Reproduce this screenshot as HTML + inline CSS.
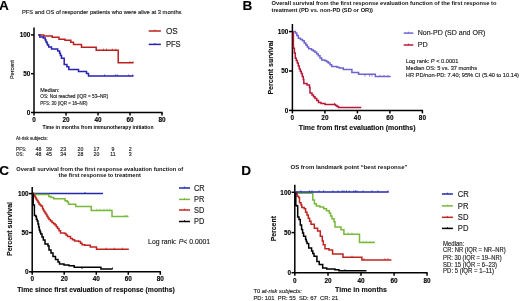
<!DOCTYPE html>
<html><head><meta charset="utf-8"><style>
html,body{margin:0;padding:0;background:#fff;}
body{width:520px;height:301px;overflow:hidden;}
svg{display:block;font-family:"Liberation Sans",Arial,sans-serif;}
text[font-weight="normal"]{stroke:#222;stroke-width:0.15px;}
text[font-weight="bold"]{stroke:#000;stroke-width:0.12px;}
</style></head><body>
<svg width="520" height="301" viewBox="0 0 520 301">
<rect width="520" height="301" fill="#fff"/>
<text x="-0.90" y="9.60" font-size="13.60" font-weight="bold" text-anchor="start" fill="#000">A</text>
<text x="22.00" y="14.20" font-size="5.40" font-weight="normal" text-anchor="start" fill="#222" textLength="159.50" lengthAdjust="spacingAndGlyphs">PFS and OS of responder patients who were alive at 3 months</text>
<line x1="34.00" y1="27.50" x2="34.00" y2="113.10" stroke="#000" stroke-width="1.50"/>
<line x1="31.00" y1="34.90" x2="34.00" y2="34.90" stroke="#000" stroke-width="1.50"/>
<line x1="31.00" y1="73.70" x2="34.00" y2="73.70" stroke="#000" stroke-width="1.50"/>
<line x1="31.00" y1="112.50" x2="34.00" y2="112.50" stroke="#000" stroke-width="1.50"/>
<text x="30.30" y="37.20" font-size="6.40" font-weight="bold" text-anchor="end" fill="#000">100</text>
<text x="30.30" y="76.00" font-size="6.40" font-weight="bold" text-anchor="end" fill="#000">50</text>
<text x="30.30" y="114.80" font-size="6.40" font-weight="bold" text-anchor="end" fill="#000">0</text>
<text x="0.00" y="0.00" font-size="5.50" font-weight="normal" text-anchor="middle" fill="#222" transform="translate(13.8 69.6) rotate(-90)">Percent</text>
<line x1="33.40" y1="112.50" x2="162.60" y2="112.50" stroke="#000" stroke-width="1.50"/>
<line x1="34.00" y1="112.50" x2="34.00" y2="115.60" stroke="#000" stroke-width="1.50"/>
<text x="34.00" y="121.80" font-size="6.40" font-weight="bold" text-anchor="middle" fill="#000">0</text>
<line x1="66.00" y1="112.50" x2="66.00" y2="115.60" stroke="#000" stroke-width="1.50"/>
<text x="66.00" y="121.80" font-size="6.40" font-weight="bold" text-anchor="middle" fill="#000">20</text>
<line x1="98.00" y1="112.50" x2="98.00" y2="115.60" stroke="#000" stroke-width="1.50"/>
<text x="98.00" y="121.80" font-size="6.40" font-weight="bold" text-anchor="middle" fill="#000">40</text>
<line x1="130.00" y1="112.50" x2="130.00" y2="115.60" stroke="#000" stroke-width="1.50"/>
<text x="130.00" y="121.80" font-size="6.40" font-weight="bold" text-anchor="middle" fill="#000">60</text>
<line x1="162.00" y1="112.50" x2="162.00" y2="115.60" stroke="#000" stroke-width="1.50"/>
<text x="162.00" y="121.80" font-size="6.40" font-weight="bold" text-anchor="middle" fill="#000">80</text>
<text x="42.50" y="129.00" font-size="5.50" font-weight="bold" text-anchor="start" fill="#000" textLength="111.00" lengthAdjust="spacingAndGlyphs" style="stroke:none">Time in months from immunotherapy initiation</text>
<path d="M38.30 35.00 H43.70 V36.00 H52.20 V37.30 H59.00 V39.20 H65.00 V40.20 H70.80 V42.20 H73.50 V44.50 H81.50 V47.20 H96.20 V50.30 H118.20 V62.80 H133.50" fill="none" stroke="#bb2020" stroke-width="1.50" stroke-linejoin="miter" stroke-linecap="butt"/>
<path d="M38.30 35.00 H39.80 V36.90 H43.30 V38.10 H45.20 V40.00 H46.00 V41.90 H47.00 V43.50 H47.50 V45.00 H48.70 V47.10 H51.50 V49.00 H57.70 V50.90 H59.60 V53.20 H60.40 V55.50 H61.50 V58.30 H64.20 V64.50 H66.90 V66.80 H68.80 V69.40 H78.50 V71.50 H86.50 V73.40 H88.50 V76.00 H133.50" fill="none" stroke="#2a22b0" stroke-width="1.50" stroke-linejoin="miter" stroke-linecap="butt"/>
<line x1="103.50" y1="48.70" x2="103.50" y2="50.30" stroke="#bb2020" stroke-width="0.80"/><line x1="106.50" y1="48.70" x2="106.50" y2="50.30" stroke="#bb2020" stroke-width="0.80"/><line x1="112.30" y1="48.70" x2="112.30" y2="50.30" stroke="#bb2020" stroke-width="0.80"/><line x1="115.80" y1="48.70" x2="115.80" y2="50.30" stroke="#bb2020" stroke-width="0.80"/>
<line x1="130.00" y1="61.20" x2="130.00" y2="62.80" stroke="#bb2020" stroke-width="0.80"/><line x1="132.90" y1="61.20" x2="132.90" y2="62.80" stroke="#bb2020" stroke-width="0.80"/>
<line x1="104.60" y1="74.50" x2="104.60" y2="76.10" stroke="#2a22b0" stroke-width="0.80"/><line x1="115.40" y1="74.50" x2="115.40" y2="76.10" stroke="#2a22b0" stroke-width="0.80"/><line x1="117.30" y1="74.50" x2="117.30" y2="76.10" stroke="#2a22b0" stroke-width="0.80"/><line x1="128.80" y1="74.50" x2="128.80" y2="76.10" stroke="#2a22b0" stroke-width="0.80"/><line x1="132.70" y1="74.50" x2="132.70" y2="76.10" stroke="#2a22b0" stroke-width="0.80"/>
<line x1="148.70" y1="31.00" x2="160.90" y2="31.00" stroke="#bb2020" stroke-width="1.50"/>
<line x1="154.80" y1="29.60" x2="154.80" y2="31.00" stroke="#bb2020" stroke-width="0.80"/>
<line x1="148.70" y1="44.40" x2="160.90" y2="44.40" stroke="#2a22b0" stroke-width="1.50"/>
<line x1="154.80" y1="43.00" x2="154.80" y2="44.40" stroke="#2a22b0" stroke-width="0.80"/>
<text x="165.90" y="33.70" font-size="8.80" font-weight="normal" text-anchor="start" fill="#222" textLength="11.80" lengthAdjust="spacingAndGlyphs">OS</text>
<text x="165.90" y="47.40" font-size="8.80" font-weight="normal" text-anchor="start" fill="#222" textLength="14.80" lengthAdjust="spacingAndGlyphs">PFS</text>
<text x="40.30" y="92.20" font-size="5.40" font-weight="normal" text-anchor="start" fill="#222">Median:</text>
<text x="40.30" y="98.40" font-size="5.40" font-weight="normal" text-anchor="start" fill="#222" textLength="68.00" lengthAdjust="spacingAndGlyphs">OS: Not reached (IQR = 53&#8211;NR)</text>
<text x="40.30" y="104.50" font-size="5.40" font-weight="normal" text-anchor="start" fill="#222" textLength="47.20" lengthAdjust="spacingAndGlyphs">PFS: 30 (IQR = 16&#8211;NR)</text>
<text x="16.10" y="140.20" font-size="5.20" font-weight="normal" text-anchor="start" fill="#222" textLength="31.60" lengthAdjust="spacingAndGlyphs">At-risk subjects:</text>
<text x="16.10" y="150.80" font-size="5.20" font-weight="normal" text-anchor="start" fill="#222" textLength="10.10" lengthAdjust="spacingAndGlyphs">PFS:</text>
<text x="16.10" y="156.20" font-size="5.20" font-weight="normal" text-anchor="start" fill="#222" textLength="7.60" lengthAdjust="spacingAndGlyphs">OS:</text>
<text x="38.50" y="150.80" font-size="5.20" font-weight="normal" text-anchor="middle" fill="#222">48</text>
<text x="38.50" y="156.20" font-size="5.20" font-weight="normal" text-anchor="middle" fill="#222">48</text>
<text x="49.00" y="150.80" font-size="5.20" font-weight="normal" text-anchor="middle" fill="#222">39</text>
<text x="49.00" y="156.20" font-size="5.20" font-weight="normal" text-anchor="middle" fill="#222">45</text>
<text x="63.20" y="150.80" font-size="5.20" font-weight="normal" text-anchor="middle" fill="#222">23</text>
<text x="63.20" y="156.20" font-size="5.20" font-weight="normal" text-anchor="middle" fill="#222">34</text>
<text x="80.50" y="150.80" font-size="5.20" font-weight="normal" text-anchor="middle" fill="#222">20</text>
<text x="80.50" y="156.20" font-size="5.20" font-weight="normal" text-anchor="middle" fill="#222">28</text>
<text x="96.50" y="150.80" font-size="5.20" font-weight="normal" text-anchor="middle" fill="#222">17</text>
<text x="96.50" y="156.20" font-size="5.20" font-weight="normal" text-anchor="middle" fill="#222">20</text>
<text x="113.00" y="150.80" font-size="5.20" font-weight="normal" text-anchor="middle" fill="#222">9</text>
<text x="113.00" y="156.20" font-size="5.20" font-weight="normal" text-anchor="middle" fill="#222">11</text>
<text x="130.10" y="150.80" font-size="5.20" font-weight="normal" text-anchor="middle" fill="#222">2</text>
<text x="130.10" y="156.20" font-size="5.20" font-weight="normal" text-anchor="middle" fill="#222">3</text>
<text x="242.40" y="10.00" font-size="13.60" font-weight="bold" text-anchor="start" fill="#000">B</text>
<text x="271.50" y="5.40" font-size="5.60" font-weight="bold" text-anchor="start" fill="#111" textLength="225.00" lengthAdjust="spacingAndGlyphs" style="stroke:none">Overall survival from the first response evaluation function of the first response to</text>
<text x="271.50" y="12.30" font-size="5.60" font-weight="bold" text-anchor="start" fill="#111" textLength="101.50" lengthAdjust="spacingAndGlyphs" style="stroke:none">treatment (PD vs. non-PD (SD or OR))</text>
<line x1="292.40" y1="24.00" x2="292.40" y2="111.00" stroke="#000" stroke-width="1.50"/>
<line x1="289.00" y1="31.60" x2="292.40" y2="31.60" stroke="#000" stroke-width="1.50"/>
<line x1="289.00" y1="71.00" x2="292.40" y2="71.00" stroke="#000" stroke-width="1.50"/>
<line x1="289.00" y1="110.40" x2="292.40" y2="110.40" stroke="#000" stroke-width="1.50"/>
<text x="288.30" y="33.90" font-size="6.40" font-weight="bold" text-anchor="end" fill="#000">100</text>
<text x="288.30" y="73.30" font-size="6.40" font-weight="bold" text-anchor="end" fill="#000">50</text>
<text x="288.30" y="112.70" font-size="6.40" font-weight="bold" text-anchor="end" fill="#000">0</text>
<text x="0.00" y="0.00" font-size="7.00" font-weight="bold" text-anchor="middle" fill="#111" transform="translate(272.8 67.5) rotate(-90)">Percent survival</text>
<line x1="291.80" y1="110.40" x2="423.00" y2="110.40" stroke="#000" stroke-width="1.50"/>
<line x1="292.40" y1="110.40" x2="292.40" y2="113.40" stroke="#000" stroke-width="1.50"/>
<text x="292.40" y="119.60" font-size="6.40" font-weight="bold" text-anchor="middle" fill="#000">0</text>
<line x1="324.90" y1="110.40" x2="324.90" y2="113.40" stroke="#000" stroke-width="1.50"/>
<text x="324.90" y="119.60" font-size="6.40" font-weight="bold" text-anchor="middle" fill="#000">20</text>
<line x1="357.40" y1="110.40" x2="357.40" y2="113.40" stroke="#000" stroke-width="1.50"/>
<text x="357.40" y="119.60" font-size="6.40" font-weight="bold" text-anchor="middle" fill="#000">40</text>
<line x1="389.90" y1="110.40" x2="389.90" y2="113.40" stroke="#000" stroke-width="1.50"/>
<text x="389.90" y="119.60" font-size="6.40" font-weight="bold" text-anchor="middle" fill="#000">60</text>
<line x1="422.40" y1="110.40" x2="422.40" y2="113.40" stroke="#000" stroke-width="1.50"/>
<text x="422.40" y="119.60" font-size="6.40" font-weight="bold" text-anchor="middle" fill="#000">80</text>
<text x="298.80" y="130.00" font-size="7.20" font-weight="bold" text-anchor="start" fill="#111" textLength="116.70" lengthAdjust="spacingAndGlyphs">Time from first evaluation (months)</text>
<path d="M293.40 31.60 H295.40 V32.90 H296.80 V35.50 H298.30 V38.30 H300.50 V39.60 H302.50 V40.80 H304.20 V43.00 H305.80 V45.00 H307.30 V46.90 H308.70 V48.70 H311.60 V50.00 H313.30 V51.00 H315.00 V52.20 H316.70 V54.00 H318.30 V55.80 H320.00 V58.00 H321.70 V60.00 H325.00 V60.80 H326.70 V61.80 H328.30 V62.90 H330.00 V64.80 H331.70 V66.50 H337.00 V67.20 H339.20 V67.90 H343.30 V69.60 H351.90 V72.40 H358.60 V74.30 H375.30 V76.50 H390.70" fill="none" stroke="#6c64d0" stroke-width="1.50" stroke-linejoin="miter" stroke-linecap="butt"/>
<path d="M293.40 31.60 H293.40 V48.30 H294.40 V53.00 H295.30 V58.30 H296.30 V60.50 H297.30 V62.90 H298.30 V66.00 H299.30 V68.90 H300.30 V71.20 H301.30 V73.60 H302.30 V76.50 H303.30 V79.50 H303.80 V83.50 H307.00 V85.00 H309.50 V87.50 H310.00 V93.00 H312.00 V95.00 H313.50 V96.80 H315.00 V98.50 H316.80 V100.50 H318.50 V102.50 H321.00 V103.50 H325.00 V104.50 H335.50 V105.50 H337.00 V106.50 H338.50 V107.40 H361.30" fill="none" stroke="#b81838" stroke-width="1.50" stroke-linejoin="miter" stroke-linecap="butt"/>
<line x1="365.00" y1="74.90" x2="365.00" y2="76.50" stroke="#6c64d0" stroke-width="0.80"/><line x1="369.50" y1="74.90" x2="369.50" y2="76.50" stroke="#6c64d0" stroke-width="0.80"/><line x1="372.00" y1="74.90" x2="372.00" y2="76.50" stroke="#6c64d0" stroke-width="0.80"/><line x1="380.00" y1="74.90" x2="380.00" y2="76.50" stroke="#6c64d0" stroke-width="0.80"/><line x1="384.00" y1="74.90" x2="384.00" y2="76.50" stroke="#6c64d0" stroke-width="0.80"/><line x1="388.00" y1="74.90" x2="388.00" y2="76.50" stroke="#6c64d0" stroke-width="0.80"/>
<line x1="334.50" y1="102.90" x2="334.50" y2="104.50" stroke="#b81838" stroke-width="0.80"/>
<line x1="403.70" y1="33.10" x2="413.30" y2="33.10" stroke="#6c64d0" stroke-width="1.50"/>
<line x1="408.50" y1="31.70" x2="408.50" y2="33.10" stroke="#6c64d0" stroke-width="0.80"/>
<line x1="403.70" y1="45.00" x2="413.30" y2="45.00" stroke="#b81838" stroke-width="1.50"/>
<line x1="408.50" y1="43.60" x2="408.50" y2="45.00" stroke="#b81838" stroke-width="0.80"/>
<text x="417.70" y="35.20" font-size="7.40" font-weight="normal" text-anchor="start" fill="#222" textLength="67.70" lengthAdjust="spacingAndGlyphs">Non-PD (SD and OR)</text>
<text x="417.70" y="47.30" font-size="7.40" font-weight="normal" text-anchor="start" fill="#222" textLength="10.00" lengthAdjust="spacingAndGlyphs">PD</text>
<text x="405.80" y="63.30" font-size="6.00" font-weight="normal" text-anchor="start" fill="#222" textLength="52.50" lengthAdjust="spacingAndGlyphs">Log rank: <tspan font-style="italic">P</tspan> &lt; 0.0001</text>
<text x="405.80" y="70.30" font-size="6.00" font-weight="normal" text-anchor="start" fill="#222" textLength="71.20" lengthAdjust="spacingAndGlyphs">Median OS: 5 vs. 37 months</text>
<text x="405.80" y="77.20" font-size="6.00" font-weight="normal" text-anchor="start" fill="#222" textLength="113.20" lengthAdjust="spacingAndGlyphs">HR PD/non-PD: 7.40; 95% CI (5.40 to 10.14)</text>
<text x="-0.80" y="174.50" font-size="13.60" font-weight="bold" text-anchor="start" fill="#000">C</text>
<text x="16.30" y="170.70" font-size="5.60" font-weight="bold" text-anchor="start" fill="#111" textLength="166.80" lengthAdjust="spacingAndGlyphs" style="stroke:none">Overall survival from the first response evaluation function of</text>
<text x="99.70" y="177.00" font-size="5.60" font-weight="bold" text-anchor="middle" fill="#111" textLength="82.20" lengthAdjust="spacingAndGlyphs" style="stroke:none">the first response to treatment</text>
<line x1="32.20" y1="187.00" x2="32.20" y2="272.40" stroke="#000" stroke-width="1.50"/>
<line x1="29.00" y1="193.60" x2="32.20" y2="193.60" stroke="#000" stroke-width="1.50"/>
<line x1="29.00" y1="232.60" x2="32.20" y2="232.60" stroke="#000" stroke-width="1.50"/>
<line x1="29.00" y1="271.80" x2="32.20" y2="271.80" stroke="#000" stroke-width="1.50"/>
<text x="28.60" y="195.90" font-size="6.40" font-weight="bold" text-anchor="end" fill="#000">100</text>
<text x="28.60" y="234.90" font-size="6.40" font-weight="bold" text-anchor="end" fill="#000">50</text>
<text x="28.60" y="274.10" font-size="6.40" font-weight="bold" text-anchor="end" fill="#000">0</text>
<text x="0.00" y="0.00" font-size="7.20" font-weight="bold" text-anchor="middle" fill="#111" textLength="54.00" lengthAdjust="spacingAndGlyphs" transform="translate(12.4 229) rotate(-90)">Percent survival</text>
<line x1="31.60" y1="271.80" x2="160.90" y2="271.80" stroke="#000" stroke-width="1.50"/>
<line x1="32.20" y1="271.80" x2="32.20" y2="274.80" stroke="#000" stroke-width="1.50"/>
<text x="32.20" y="280.60" font-size="6.40" font-weight="bold" text-anchor="middle" fill="#000">0</text>
<line x1="64.20" y1="271.80" x2="64.20" y2="274.80" stroke="#000" stroke-width="1.50"/>
<text x="64.20" y="280.60" font-size="6.40" font-weight="bold" text-anchor="middle" fill="#000">20</text>
<line x1="96.30" y1="271.80" x2="96.30" y2="274.80" stroke="#000" stroke-width="1.50"/>
<text x="96.30" y="280.60" font-size="6.40" font-weight="bold" text-anchor="middle" fill="#000">40</text>
<line x1="128.30" y1="271.80" x2="128.30" y2="274.80" stroke="#000" stroke-width="1.50"/>
<text x="128.30" y="280.60" font-size="6.40" font-weight="bold" text-anchor="middle" fill="#000">60</text>
<line x1="160.30" y1="271.80" x2="160.30" y2="274.80" stroke="#000" stroke-width="1.50"/>
<text x="160.30" y="280.60" font-size="6.40" font-weight="bold" text-anchor="middle" fill="#000">80</text>
<text x="17.20" y="291.50" font-size="7.20" font-weight="bold" text-anchor="start" fill="#111" textLength="157.60" lengthAdjust="spacingAndGlyphs">Time since first evaluation of response (months)</text>
<path d="M32.80 193.60 H103.00" fill="none" stroke="#2228a8" stroke-width="1.50" stroke-linejoin="miter" stroke-linecap="butt"/>
<path d="M32.80 193.60 H34.50 V194.50 H48.80 V196.50 H51.00 V197.60 H53.80 V198.80 H65.00 V200.80 H67.30 V201.90 H68.50 V204.20 H75.80 V206.50 H91.20 V210.40 H112.00 V216.60 H128.50" fill="none" stroke="#78b83a" stroke-width="1.50" stroke-linejoin="miter" stroke-linecap="butt"/>
<path d="M32.80 193.60 H33.40 V194.40 H34.00 V195.00 H34.80 V196.60 H35.50 V198.00 H36.30 V199.30 H37.00 V200.50 H38.00 V202.30 H39.00 V204.00 H40.00 V205.00 H41.00 V206.00 H42.50 V208.50 H43.30 V210.00 H44.00 V211.50 H45.00 V213.00 H46.00 V214.50 H47.00 V216.30 H48.00 V218.00 H49.00 V219.50 H50.50 V221.00 H52.00 V222.50 H53.50 V223.80 H55.00 V225.00 H56.30 V226.80 H57.50 V228.50 H59.00 V230.80 H60.50 V233.00 H64.50 V233.50 H66.00 V235.00 H67.50 V236.50 H70.50 V238.50 H72.50 V239.80 H74.50 V241.00 H78.70 V241.60 H80.50 V243.20 H82.00 V244.80 H84.80 V245.20 H90.30 V247.10 H96.50 V249.30 H128.80" fill="none" stroke="#c02420" stroke-width="1.50" stroke-linejoin="miter" stroke-linecap="butt"/>
<path d="M32.80 193.60 H33.20 V205.00 H34.40 V215.50 H35.80 V216.60 H36.40 V219.20 H37.20 V221.00 H38.00 V224.00 H38.60 V227.00 H39.30 V230.00 H40.00 V232.00 H40.70 V234.00 H42.00 V237.00 H43.30 V240.00 H45.00 V244.00 H48.00 V246.00 H49.00 V250.00 H51.00 V253.00 H53.00 V256.50 H55.50 V259.50 H58.00 V262.00 H59.50 V264.00 H64.00 V265.00 H69.00 V265.80 H74.20 V267.20 H100.90 V269.10 H112.50" fill="none" stroke="#000" stroke-width="1.50" stroke-linejoin="miter" stroke-linecap="butt"/>
<line x1="85.00" y1="192.00" x2="85.00" y2="193.60" stroke="#2228a8" stroke-width="0.80"/>
<line x1="97.00" y1="208.80" x2="97.00" y2="210.40" stroke="#78b83a" stroke-width="0.80"/><line x1="100.00" y1="208.80" x2="100.00" y2="210.40" stroke="#78b83a" stroke-width="0.80"/><line x1="104.00" y1="208.80" x2="104.00" y2="210.40" stroke="#78b83a" stroke-width="0.80"/><line x1="107.00" y1="208.80" x2="107.00" y2="210.40" stroke="#78b83a" stroke-width="0.80"/><line x1="110.00" y1="208.80" x2="110.00" y2="210.40" stroke="#78b83a" stroke-width="0.80"/>
<line x1="125.00" y1="215.00" x2="125.00" y2="216.60" stroke="#78b83a" stroke-width="0.80"/><line x1="127.00" y1="215.00" x2="127.00" y2="216.60" stroke="#78b83a" stroke-width="0.80"/>
<line x1="106.20" y1="247.70" x2="106.20" y2="249.30" stroke="#c02420" stroke-width="0.80"/><line x1="114.30" y1="247.70" x2="114.30" y2="249.30" stroke="#c02420" stroke-width="0.80"/><line x1="122.40" y1="247.70" x2="122.40" y2="249.30" stroke="#c02420" stroke-width="0.80"/>
<line x1="82.00" y1="267.50" x2="82.00" y2="269.10" stroke="#000" stroke-width="0.80"/><line x1="112.50" y1="267.50" x2="112.50" y2="269.10" stroke="#000" stroke-width="0.80"/>
<line x1="179.00" y1="188.00" x2="190.00" y2="188.00" stroke="#2228a8" stroke-width="1.50"/>
<line x1="184.50" y1="186.60" x2="184.50" y2="188.00" stroke="#2228a8" stroke-width="0.80"/>
<text x="194.00" y="190.50" font-size="8.30" font-weight="normal" text-anchor="start" fill="#222" textLength="10.70" lengthAdjust="spacingAndGlyphs">CR</text>
<line x1="179.00" y1="199.40" x2="190.00" y2="199.40" stroke="#78b83a" stroke-width="1.50"/>
<line x1="184.50" y1="198.00" x2="184.50" y2="199.40" stroke="#78b83a" stroke-width="0.80"/>
<text x="194.00" y="201.90" font-size="8.30" font-weight="normal" text-anchor="start" fill="#222" textLength="10.30" lengthAdjust="spacingAndGlyphs">PR</text>
<line x1="179.00" y1="210.00" x2="190.00" y2="210.00" stroke="#c02420" stroke-width="1.50"/>
<line x1="184.50" y1="208.60" x2="184.50" y2="210.00" stroke="#c02420" stroke-width="0.80"/>
<text x="194.00" y="212.50" font-size="8.30" font-weight="normal" text-anchor="start" fill="#222" textLength="10.30" lengthAdjust="spacingAndGlyphs">SD</text>
<line x1="179.00" y1="221.50" x2="190.00" y2="221.50" stroke="#000" stroke-width="1.50"/>
<line x1="184.50" y1="220.10" x2="184.50" y2="221.50" stroke="#000" stroke-width="0.80"/>
<text x="194.00" y="224.00" font-size="8.30" font-weight="normal" text-anchor="start" fill="#222" textLength="10.30" lengthAdjust="spacingAndGlyphs">PD</text>
<text x="148.10" y="243.80" font-size="7.40" font-weight="normal" text-anchor="start" fill="#222" textLength="62.10" lengthAdjust="spacingAndGlyphs">Log rank: <tspan font-style="italic">P</tspan>&lt; 0.0001</text>
<text x="241.30" y="175.00" font-size="13.60" font-weight="bold" text-anchor="start" fill="#000">D</text>
<text x="290.50" y="169.40" font-size="5.60" font-weight="bold" text-anchor="start" fill="#111" textLength="117.00" lengthAdjust="spacingAndGlyphs" style="stroke:none">OS from landmark point “best response”</text>
<line x1="294.80" y1="184.70" x2="294.80" y2="273.30" stroke="#000" stroke-width="1.50"/>
<line x1="291.50" y1="192.30" x2="294.80" y2="192.30" stroke="#000" stroke-width="1.50"/>
<line x1="291.50" y1="232.60" x2="294.80" y2="232.60" stroke="#000" stroke-width="1.50"/>
<line x1="291.50" y1="272.70" x2="294.80" y2="272.70" stroke="#000" stroke-width="1.50"/>
<text x="291.00" y="194.60" font-size="6.40" font-weight="bold" text-anchor="end" fill="#000">100</text>
<text x="291.00" y="234.90" font-size="6.40" font-weight="bold" text-anchor="end" fill="#000">50</text>
<text x="291.00" y="275.00" font-size="6.40" font-weight="bold" text-anchor="end" fill="#000">0</text>
<text x="0.00" y="0.00" font-size="7.80" font-weight="bold" text-anchor="middle" fill="#111" textLength="25.30" lengthAdjust="spacingAndGlyphs" transform="translate(276.0 228.7) rotate(-90)">Percent</text>
<line x1="294.20" y1="272.70" x2="427.60" y2="272.70" stroke="#000" stroke-width="1.50"/>
<line x1="294.80" y1="272.70" x2="294.80" y2="275.70" stroke="#000" stroke-width="1.50"/>
<text x="294.80" y="282.80" font-size="6.40" font-weight="bold" text-anchor="middle" fill="#000">0</text>
<line x1="328.00" y1="272.70" x2="328.00" y2="275.70" stroke="#000" stroke-width="1.50"/>
<text x="328.00" y="282.80" font-size="6.40" font-weight="bold" text-anchor="middle" fill="#000">20</text>
<line x1="361.00" y1="272.70" x2="361.00" y2="275.70" stroke="#000" stroke-width="1.50"/>
<text x="361.00" y="282.80" font-size="6.40" font-weight="bold" text-anchor="middle" fill="#000">40</text>
<line x1="394.10" y1="272.70" x2="394.10" y2="275.70" stroke="#000" stroke-width="1.50"/>
<text x="394.10" y="282.80" font-size="6.40" font-weight="bold" text-anchor="middle" fill="#000">60</text>
<line x1="427.00" y1="272.70" x2="427.00" y2="275.70" stroke="#000" stroke-width="1.50"/>
<text x="427.00" y="282.80" font-size="6.40" font-weight="bold" text-anchor="middle" fill="#000">80</text>
<text x="335.00" y="291.70" font-size="8.00" font-weight="bold" text-anchor="start" fill="#111" textLength="52.00" lengthAdjust="spacingAndGlyphs">Time in months</text>
<path d="M295.50 193.20 H312.80 V200.00 H314.40 V203.70 H316.30 V206.00 H320.00 V206.90 H323.70 V208.80 H326.50 V210.70 H329.30 V213.00 H330.60 V216.00 H332.00 V218.80 H334.00 V221.80 H335.00 V227.00 H341.00 V229.80 H343.90 V234.20 H359.50 V242.50 H374.80" fill="none" stroke="#78b83a" stroke-width="1.50" stroke-linejoin="miter" stroke-linecap="butt"/>
<path d="M295.50 193.20 H297.20 V196.20 H298.60 V197.60 H299.50 V202.70 H301.00 V205.00 H301.80 V207.40 H304.20 V208.80 H305.60 V212.30 H307.00 V215.00 H308.30 V218.30 H309.60 V221.30 H311.00 V224.30 H314.30 V228.30 H317.60 V230.90 H320.30 V236.30 H322.30 V240.90 H323.30 V244.70 H325.00 V248.70 H329.00 V250.00 H332.60 V253.90 H343.00 V257.30 H361.90 V259.90 H391.40" fill="none" stroke="#c02420" stroke-width="1.50" stroke-linejoin="miter" stroke-linecap="butt"/>
<path d="M295.50 192.30 H295.80 V205.50 H297.00 V206.00 H297.70 V217.00 H299.00 V219.60 H300.30 V225.00 H301.60 V229.60 H302.60 V233.00 H303.60 V236.30 H305.60 V239.60 H306.30 V241.50 H307.00 V243.50 H308.70 V248.10 H311.60 V251.00 H312.80 V253.60 H314.00 V256.30 H316.90 V261.50 H319.20 V264.40 H322.70 V267.90 H326.70 V269.10 H334.90 V269.70 H339.00 V270.80 H366.50" fill="none" stroke="#000" stroke-width="1.50" stroke-linejoin="miter" stroke-linecap="butt"/>
<path d="M295.50 192.00 H388.70" fill="none" stroke="#2228a8" stroke-width="1.50" stroke-linejoin="miter" stroke-linecap="butt"/>
<line x1="300.90" y1="190.40" x2="300.90" y2="192.00" stroke="#2228a8" stroke-width="0.80"/><line x1="309.30" y1="190.40" x2="309.30" y2="192.00" stroke="#2228a8" stroke-width="0.80"/><line x1="312.00" y1="190.40" x2="312.00" y2="192.00" stroke="#2228a8" stroke-width="0.80"/><line x1="319.00" y1="190.40" x2="319.00" y2="192.00" stroke="#2228a8" stroke-width="0.80"/><line x1="323.70" y1="190.40" x2="323.70" y2="192.00" stroke="#2228a8" stroke-width="0.80"/><line x1="333.00" y1="190.40" x2="333.00" y2="192.00" stroke="#2228a8" stroke-width="0.80"/><line x1="338.00" y1="190.40" x2="338.00" y2="192.00" stroke="#2228a8" stroke-width="0.80"/><line x1="342.30" y1="190.40" x2="342.30" y2="192.00" stroke="#2228a8" stroke-width="0.80"/><line x1="344.00" y1="190.40" x2="344.00" y2="192.00" stroke="#2228a8" stroke-width="0.80"/><line x1="346.50" y1="190.40" x2="346.50" y2="192.00" stroke="#2228a8" stroke-width="0.80"/><line x1="349.20" y1="190.40" x2="349.20" y2="192.00" stroke="#2228a8" stroke-width="0.80"/><line x1="353.80" y1="190.40" x2="353.80" y2="192.00" stroke="#2228a8" stroke-width="0.80"/><line x1="355.50" y1="190.40" x2="355.50" y2="192.00" stroke="#2228a8" stroke-width="0.80"/><line x1="357.00" y1="190.40" x2="357.00" y2="192.00" stroke="#2228a8" stroke-width="0.80"/><line x1="363.00" y1="190.40" x2="363.00" y2="192.00" stroke="#2228a8" stroke-width="0.80"/><line x1="372.00" y1="190.40" x2="372.00" y2="192.00" stroke="#2228a8" stroke-width="0.80"/><line x1="378.00" y1="190.40" x2="378.00" y2="192.00" stroke="#2228a8" stroke-width="0.80"/><line x1="388.00" y1="190.40" x2="388.00" y2="192.00" stroke="#2228a8" stroke-width="0.80"/>
<line x1="348.00" y1="232.60" x2="348.00" y2="234.20" stroke="#78b83a" stroke-width="0.80"/><line x1="352.00" y1="232.60" x2="352.00" y2="234.20" stroke="#78b83a" stroke-width="0.80"/>
<line x1="363.00" y1="240.90" x2="363.00" y2="242.50" stroke="#78b83a" stroke-width="0.80"/><line x1="366.00" y1="240.90" x2="366.00" y2="242.50" stroke="#78b83a" stroke-width="0.80"/><line x1="370.00" y1="240.90" x2="370.00" y2="242.50" stroke="#78b83a" stroke-width="0.80"/><line x1="373.00" y1="240.90" x2="373.00" y2="242.50" stroke="#78b83a" stroke-width="0.80"/>
<line x1="352.00" y1="255.70" x2="352.00" y2="257.30" stroke="#c02420" stroke-width="0.80"/>
<line x1="364.00" y1="258.30" x2="364.00" y2="259.90" stroke="#c02420" stroke-width="0.80"/><line x1="385.00" y1="258.30" x2="385.00" y2="259.90" stroke="#c02420" stroke-width="0.80"/><line x1="388.00" y1="258.30" x2="388.00" y2="259.90" stroke="#c02420" stroke-width="0.80"/>
<line x1="345.00" y1="269.20" x2="345.00" y2="270.80" stroke="#000" stroke-width="0.80"/>
<line x1="441.90" y1="194.00" x2="452.90" y2="194.00" stroke="#2228a8" stroke-width="1.50"/>
<line x1="447.40" y1="192.60" x2="447.40" y2="194.00" stroke="#2228a8" stroke-width="0.80"/>
<text x="457.80" y="196.60" font-size="8.50" font-weight="normal" text-anchor="start" fill="#222" textLength="11.00" lengthAdjust="spacingAndGlyphs">CR</text>
<line x1="441.90" y1="205.90" x2="452.90" y2="205.90" stroke="#78b83a" stroke-width="1.50"/>
<line x1="447.40" y1="204.50" x2="447.40" y2="205.90" stroke="#78b83a" stroke-width="0.80"/>
<text x="457.80" y="208.50" font-size="8.50" font-weight="normal" text-anchor="start" fill="#222" textLength="10.60" lengthAdjust="spacingAndGlyphs">PR</text>
<line x1="441.90" y1="217.30" x2="452.90" y2="217.30" stroke="#c02420" stroke-width="1.50"/>
<line x1="447.40" y1="215.90" x2="447.40" y2="217.30" stroke="#c02420" stroke-width="0.80"/>
<text x="457.80" y="219.90" font-size="8.50" font-weight="normal" text-anchor="start" fill="#222" textLength="10.60" lengthAdjust="spacingAndGlyphs">SD</text>
<line x1="441.90" y1="228.40" x2="452.90" y2="228.40" stroke="#000" stroke-width="1.50"/>
<line x1="447.40" y1="227.00" x2="447.40" y2="228.40" stroke="#000" stroke-width="0.80"/>
<text x="457.80" y="231.00" font-size="8.50" font-weight="normal" text-anchor="start" fill="#222" textLength="10.60" lengthAdjust="spacingAndGlyphs">PD</text>
<text x="443.10" y="245.70" font-size="6.40" font-weight="normal" text-anchor="start" fill="#222" textLength="21.20" lengthAdjust="spacingAndGlyphs">Median:</text>
<text x="443.10" y="252.10" font-size="6.40" font-weight="normal" text-anchor="start" fill="#222" textLength="62.50" lengthAdjust="spacingAndGlyphs">CR: NR (IQR = NR&#8211;NR)</text>
<text x="443.10" y="259.50" font-size="6.40" font-weight="normal" text-anchor="start" fill="#222" textLength="58.60" lengthAdjust="spacingAndGlyphs">PR: 30 (IQR = 19&#8211;NR)</text>
<text x="443.10" y="266.70" font-size="6.40" font-weight="normal" text-anchor="start" fill="#222" textLength="53.80" lengthAdjust="spacingAndGlyphs">SD: 15 (IQR = 6&#8211;23)</text>
<text x="443.10" y="273.10" font-size="6.40" font-weight="normal" text-anchor="start" fill="#222" textLength="50.90" lengthAdjust="spacingAndGlyphs">PD: 5 (IQR = 1&#8211;11)</text>
<text x="253.40" y="293.20" font-size="6.10" font-weight="normal" text-anchor="start" fill="#222" textLength="48.50" lengthAdjust="spacingAndGlyphs">T0 <tspan font-style="italic">at-risk subjects:</tspan></text>
<text x="253.40" y="300.30" font-size="6.20" font-weight="normal" text-anchor="start" fill="#222" textLength="84.80" lengthAdjust="spacingAndGlyphs" xml:space="preserve">PD: 101  PR: 55  SD: 67  CR: 21</text>
</svg>
</body></html>
